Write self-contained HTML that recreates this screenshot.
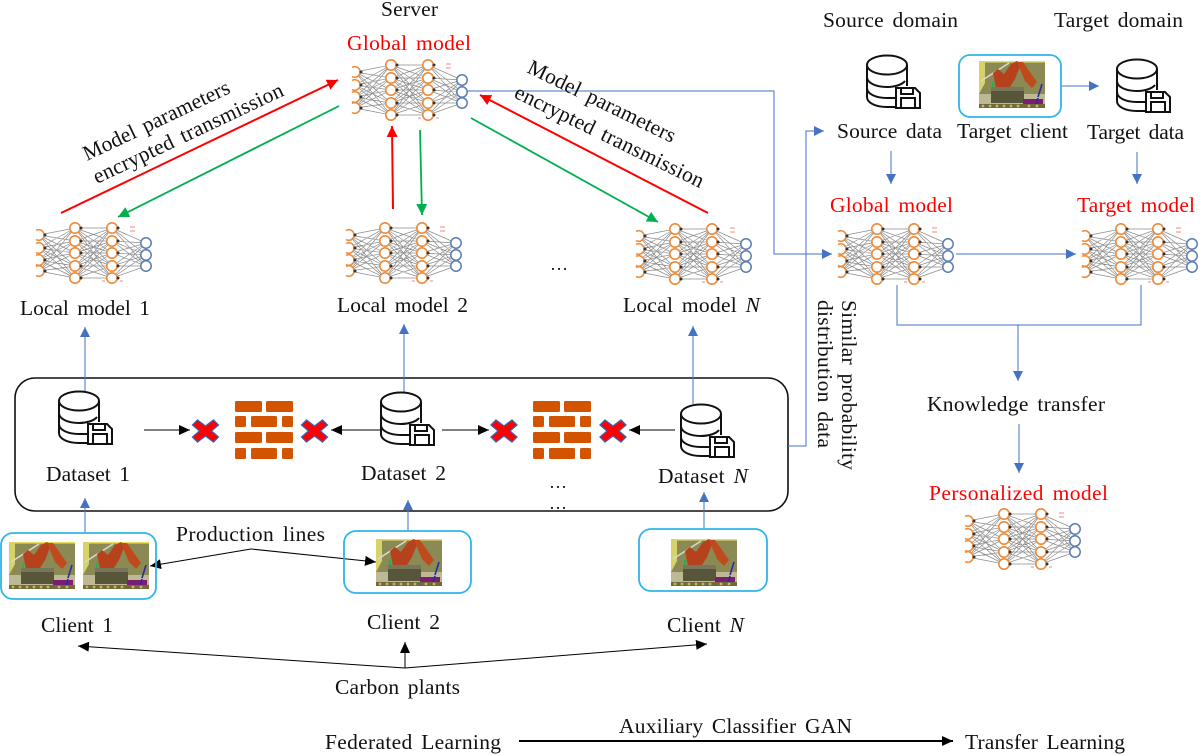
<!DOCTYPE html>
<html><head><meta charset="utf-8"><style>
html,body{margin:0;padding:0;background:#fff;width:1200px;height:755px;overflow:hidden}
svg{display:block}
text{font-family:"Liberation Serif",serif;font-size:21.5px;fill:#111;word-spacing:3px}
.r{fill:#f00}
.i{font-style:italic}
.d{font-size:18px}
</style></head><body>
<svg width="1200" height="755" viewBox="0 0 1200 755" xmlns="http://www.w3.org/2000/svg">
<defs>
<g id="l"><path d="M5 12L41 5M5 12L41 18M5 12L41 30M5 12L41 43M5 12L41 55M5 25L41 5M5 25L41 18M5 25L41 30M5 25L41 43M5 25L41 55M5 37L41 5M5 37L41 18M5 37L41 30M5 37L41 43M5 37L41 55M5 48L41 5M5 48L41 18M5 48L41 30M5 48L41 43M5 48L41 55M41 5L78 5M41 5L78 18M41 5L78 30M41 5L78 43M41 5L78 55M41 18L78 5M41 18L78 18M41 18L78 30M41 18L78 43M41 18L78 55M41 30L78 5M41 30L78 18M41 30L78 30M41 30L78 43M41 30L78 55M41 43L78 5M41 43L78 18M41 43L78 30M41 43L78 43M41 43L78 55M41 55L78 5M41 55L78 18M41 55L78 30M41 55L78 43M41 55L78 55M78 5L112 20M78 5L112 32M78 5L112 43M78 18L112 20M78 18L112 32M78 18L112 43M78 30L112 20M78 30L112 32M78 30L112 43M78 43L112 20M78 43L112 32M78 43L112 43M78 55L112 20M78 55L112 32M78 55L112 43" stroke="#8c8c8c" stroke-width=".7" fill="none"/></g>
<g id="nn">
<use href="#l"/>
<g fill="#fff" stroke="#ed8b3a" stroke-width="1.6">
<path d="M2 7.5A5.3 5.3 0 1 1 2 16.5M2 20.5A5.3 5.3 0 1 1 2 29.5M2 32.5A5.3 5.3 0 1 1 2 41.5M2 43.5A5.3 5.3 0 1 1 2 52.5"/>
<circle cx="41" cy="5" r="5.2"/><circle cx="41" cy="18" r="5.2"/><circle cx="41" cy="30" r="5.2"/><circle cx="41" cy="43" r="5.2"/><circle cx="41" cy="55" r="5.2"/>
<circle cx="78" cy="5" r="5.2"/><circle cx="78" cy="18" r="5.2"/><circle cx="78" cy="30" r="5.2"/><circle cx="78" cy="43" r="5.2"/><circle cx="78" cy="55" r="5.2"/>
</g>
<g fill="#333"><circle cx="11" cy="12" r="1.5"/><circle cx="11" cy="25" r="1.5"/><circle cx="11" cy="37" r="1.5"/><circle cx="11" cy="48" r="1.5"/><circle cx="47" cy="5" r="1.5"/><circle cx="47" cy="18" r="1.5"/><circle cx="47" cy="30" r="1.5"/><circle cx="47" cy="43" r="1.5"/><circle cx="47" cy="55" r="1.5"/><circle cx="84" cy="5" r="1.5"/><circle cx="84" cy="18" r="1.5"/><circle cx="84" cy="30" r="1.5"/><circle cx="84" cy="43" r="1.5"/><circle cx="84" cy="55" r="1.5"/></g>
<g fill="#fff" stroke="#5b7db1" stroke-width="1.5"><circle cx="112" cy="20" r="5.2"/><circle cx="112" cy="32" r="5.2"/><circle cx="112" cy="43" r="5.2"/></g>
<path d="M96 4l5 0M96 8l5 0M68 58l3 0M86 58l3 0" stroke="#f2a0a0" stroke-width="1.3"/>
</g>
<g id="db" fill="none" stroke="#111" stroke-width="2">
<ellipse cx="20" cy="10" rx="20" ry="9.5" fill="#fff"/>
<path d="M0 10V42C0 48 9 52 20 52H29M40 10V31M0 22C0 28 9 32 20 32C27 32 35 30 38 26M0 33C0 39 9 43 20 43H29"/>
<path d="M29 33H48L53 38V53H29Z" fill="#fff"/>
<path d="M34 33V39H46V33M34 53V43H48V53"/>
</g>
<g id="rb">
<rect width="66" height="47" fill="#8b8a55"/>
<rect width="66" height="1.5" fill="#e9e05a"/>
<path d="M0 0H6V22L0 33Z" fill="#d8d26a"/>
<path d="M2 20L30 2" stroke="#d8d8d0" stroke-width="1.6"/>
<path d="M14 21V34H32M28 20V30" stroke="#18b45c" stroke-width="1.8" fill="none"/>
<path d="M14 12L19 8 25 13 32 3 38 0 42 3 36 18 31 26 17 27Z" fill="#b5421c"/>
<path d="M38 1L44 1 58 21 53 27 46 20Z" fill="#bf4a1e"/>
<rect x="0" y="33" width="66" height="14" fill="#bdb995"/>
<rect x="12" y="26" width="33" height="16" fill="#57553a"/>
<rect x="12" y="26" width="33" height="4" fill="#77755a"/>
<rect x="44" y="38" width="20" height="5" fill="#7b1d75"/>
<path d="M63 23L59 36M59 37L57 44" stroke="#2b2ba0" stroke-width="1.6"/>
<rect y="43" width="66" height="4" fill="#6f6a38"/>
<g fill="#c9b36a"><circle cx="4" cy="45" r="1.4"/><circle cx="11" cy="45" r="1.4"/><circle cx="18" cy="45" r="1.4"/><circle cx="25" cy="45" r="1.4"/><circle cx="32" cy="45" r="1.4"/><circle cx="39" cy="45" r="1.4"/><circle cx="50" cy="45" r="1.4"/><circle cx="58" cy="45" r="1.4"/></g>
</g>
<g id="wall" fill="#d35400">
<rect x="0" y="0" width="27" height="11" rx="1.5"/><rect x="31" y="0" width="27" height="11" rx="1.5"/>
<rect x="0" y="15" width="11" height="11" rx="1.5"/><rect x="16" y="15" width="26" height="11" rx="1.5"/><rect x="47" y="15" width="11" height="11" rx="1.5"/>
<rect x="0" y="31" width="27" height="11" rx="1.5"/><rect x="31" y="31" width="27" height="11" rx="1.5"/>
<rect x="0" y="47" width="11" height="11" rx="1.5"/><rect x="16" y="47" width="26" height="11" rx="1.5"/><rect x="47" y="47" width="11" height="11" rx="1.5"/>
</g>
<path id="x" d="M-8 -11L0 -5 8 -11 13 -6 6 0 13 6 8 11 0 5 -8 11 -13 6 -6 0 -13 -6Z" fill="#f00" stroke="#3a62b0" stroke-width="1.3"/>
<marker id="k" markerUnits="userSpaceOnUse" markerWidth="12" markerHeight="10" refX="11" refY="5" orient="auto"><path d="M0 0L11 5 0 10Z" fill="#000"/></marker>
<marker id="b" markerUnits="userSpaceOnUse" markerWidth="11" markerHeight="10" refX="10" refY="5" orient="auto"><path d="M0 0L10 5 0 10Z" fill="#4472c4"/></marker>
<marker id="rd" markerUnits="userSpaceOnUse" markerWidth="12" markerHeight="11" refX="11" refY="5.5" orient="auto"><path d="M0 0L11 5.5 0 11Z" fill="#f00"/></marker>
<marker id="g" markerUnits="userSpaceOnUse" markerWidth="12" markerHeight="11" refX="11" refY="5.5" orient="auto"><path d="M0 0L11 5.5 0 11Z" fill="#00b050"/></marker>
</defs>

<use href="#nn" x="350" y="60"/><use href="#nn" x="34" y="223"/><use href="#nn" x="344" y="223"/><use href="#nn" x="634" y="224"/><use href="#nn" x="836" y="224"/><use href="#nn" x="1080" y="224"/><use href="#nn" x="963" y="509"/>

<rect x="15" y="378" width="773" height="133" rx="20" fill="none" stroke="#111" stroke-width="1.6"/>

<g fill="none" stroke="#f00" stroke-width="2">
<path d="M61 213L338 80" marker-end="url(#rd)"/>
<path d="M393 209L392 126" marker-end="url(#rd)"/>
<path d="M708 213L480 95" marker-end="url(#rd)"/>
</g>
<g fill="none" stroke="#00b050" stroke-width="1.8">
<path d="M339 106L118 217" marker-end="url(#g)"/>
<path d="M420 130L422 215" marker-end="url(#g)"/>
<path d="M471 118L658 222" marker-end="url(#g)"/>
</g>
<g fill="none" stroke="#4472c4" stroke-width="1">
<path d="M85 392V327" marker-end="url(#b)"/>
<path d="M404 392V324" marker-end="url(#b)"/>
<path d="M693 404V326" marker-end="url(#b)"/>
<path d="M85 533V498" marker-end="url(#b)"/>
<path d="M408 531V500" marker-end="url(#b)"/>
<path d="M704 529V492" marker-end="url(#b)"/>
<path d="M467 91H774V254H832" marker-end="url(#b)"/>
<path d="M788 446H806V131H824" marker-end="url(#b)"/>
<path d="M891 151V184" marker-end="url(#b)"/>
<path d="M1137 152V184" marker-end="url(#b)"/>
<path d="M1061 86H1099" marker-end="url(#b)"/>
<path d="M956 254H1076" marker-end="url(#b)"/>
<path d="M897 285V325H1141V285"/>
<path d="M1018 325V381" marker-end="url(#b)"/>
<path d="M1019 424V473" marker-end="url(#b)"/>
</g>
<g fill="none" stroke="#000" stroke-width="1">
<path d="M144 430H190" marker-end="url(#k)"/>
<path d="M380 430H331" marker-end="url(#k)"/>
<path d="M442 430H489" marker-end="url(#k)"/>
<path d="M675 430H629" marker-end="url(#k)"/>
<path d="M251 549L150 566" marker-end="url(#k)"/>
<path d="M251 549L376 562" marker-end="url(#k)"/>
<path d="M405 668V642" marker-end="url(#k)"/>
<path d="M405 668L78 646" marker-end="url(#k)"/>
<path d="M405 668L707 644" marker-end="url(#k)"/>
</g>
<path d="M519 741H953" stroke="#000" stroke-width="2" marker-end="url(#k)"/>

<use href="#db" x="59" y="391"/><use href="#db" x="381" y="392"/><use href="#db" x="681" y="404"/>
<use href="#db" x="867" y="55"/><use href="#db" x="1117" y="59"/>

<use href="#wall" x="235" y="401"/><use href="#wall" x="533" y="401"/>
<use href="#x" x="205.5" y="431"/><use href="#x" x="314.5" y="431"/><use href="#x" x="504" y="431"/><use href="#x" x="613" y="431"/>

<g fill="none" stroke="#2fb5ea" stroke-width="1.8">
<rect x="1" y="533" width="155" height="66" rx="12"/>
<rect x="344" y="531" width="127" height="62" rx="12"/>
<rect x="639" y="529" width="128" height="62" rx="12"/>
<rect x="959" y="55" width="102" height="62" rx="11"/>
</g>
<use href="#rb" x="9" y="542"/><use href="#rb" x="83" y="542"/><use href="#rb" x="376" y="539"/><use href="#rb" x="671" y="539"/><use href="#rb" x="979" y="61"/>

<text x="381" y="16" textLength="57">Server</text>
<text x="347" y="50" class="r" textLength="124">Global model</text>
<text x="823" y="27" textLength="135">Source domain</text>
<text x="1054" y="27" textLength="129">Target domain</text>
<text x="837" y="138" textLength="105">Source data</text>
<text x="957" y="138" textLength="111">Target client</text>
<text x="1087" y="139" textLength="97">Target data</text>
<text x="830" y="212" class="r" textLength="123">Global model</text>
<text x="1077" y="212" class="r" textLength="118">Target model</text>
<text x="20" y="315" textLength="130">Local model 1</text>
<text x="337" y="312" textLength="131">Local model 2</text>
<text x="623" y="312" textLength="137">Local model <tspan class="i">N</tspan></text>
<text x="550" y="270" class="d">…</text>
<text x="46" y="481" textLength="84">Dataset 1</text>
<text x="361" y="480" textLength="85">Dataset 2</text>
<text x="658" y="483" textLength="90">Dataset <tspan class="i">N</tspan></text>
<text x="549" y="488" class="d">…</text>
<text x="549" y="509" class="d">…</text>
<text x="176" y="541" textLength="149">Production lines</text>
<text x="41" y="632" textLength="72">Client 1</text>
<text x="367" y="629" textLength="73">Client 2</text>
<text x="667" y="632" textLength="77">Client <tspan class="i">N</tspan></text>
<text x="335" y="694" textLength="125">Carbon plants</text>
<text x="325" y="749" textLength="176">Federated Learning</text>
<text x="619" y="733" textLength="233">Auxiliary Classifier GAN</text>
<text x="965" y="749" textLength="160">Transfer Learning</text>
<text x="927" y="411" textLength="178">Knowledge transfer</text>
<text x="929" y="500" class="r" textLength="179">Personalized model</text>
<text transform="translate(87,161) rotate(-25.4)" textLength="160">Model parameters</text>
<text transform="translate(97,184) rotate(-25.3)" textLength="208">encrypted transmission</text>
<text transform="translate(526,72) rotate(26)" textLength="162">Model parameters</text>
<text transform="translate(513,97) rotate(26)" textLength="208">encrypted transmission</text>
<text transform="translate(842,300) rotate(90)" textLength="170">Similar probability</text>
<text transform="translate(818,300) rotate(90)" textLength="148">distribution data</text>
</svg>
</body></html>
